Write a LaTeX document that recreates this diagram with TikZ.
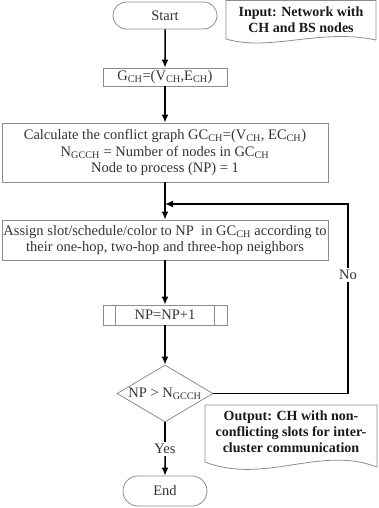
\documentclass[tikz,border=0pt]{standalone}
\usepackage{fontspec}
\setmainfont{Liberation Serif}
\usetikzlibrary{shapes.misc,shapes.geometric,arrows.meta}

\begin{document}
\begin{tikzpicture}[x=1pt,y=-1pt,
  box/.style={draw=black!45, line width=0.8pt, text=black!80, align=center, inner sep=0pt,
    font=\fontsize{14.5}{16.5}\selectfont},
  term/.style={box, rounded rectangle, minimum width=104pt, minimum height=27pt},
  proc/.style={box, rectangle},
  docline/.style={draw=black!45, line width=0.8pt},
  doctext/.style={align=center, inner sep=0pt, text=black!90, font=\fontsize{14}{16}\selectfont\bfseries},
  lbl/.style={fill=white, inner sep=2pt, text=black!80, font=\fontsize{14.5}{16}\selectfont},
  line/.style={line width=1.5pt, black},
  flow/.style={line, -{Latex[length=8pt,width=7pt]}}]
  \useasboundingbox (0,0) rectangle (378,508);

  % Main column
  \node[term] (start) at (165,15.5) {Start};
  \node[proc, minimum width=124pt, minimum height=18pt] (gch) at (165,77)
    {G\textsubscript{CH}=(V\textsubscript{CH},E\textsubscript{CH})};
  \node[proc, minimum width=326pt, minimum height=59pt] (calc) at (165,152.5)
    {Calculate the conflict graph GC\textsubscript{CH}=(V\textsubscript{CH}, EC\textsubscript{CH})\\
     N\textsubscript{GCCH} = Number of nodes in GC\textsubscript{CH}\\
     Node to process (NP) = 1};
  \node[proc, minimum width=326pt, minimum height=40pt] (assign) at (165,240)
    {Assign slot/schedule/color to NP~ in GC\textsubscript{CH} according to\\
     their one-hop, two-hop and three-hop neighbors};
  \node[proc, minimum width=124pt, minimum height=20pt] (incr) at (165,315) {NP=NP+1};
  \draw[docline] ([xshift=13pt]incr.north west) -- ([xshift=13pt]incr.south west);
  \draw[docline] ([xshift=-13pt]incr.north east) -- ([xshift=-13pt]incr.south east);
  \node[box, diamond, aspect=1.7, minimum width=96pt, minimum height=57pt] (test) at (165,393.5)
    {NP > N\textsubscript{GCCH}};
  \node[term, minimum width=84pt, minimum height=30pt] (end) at (165,491) {End};

  % Input and output documents
  \draw[docline] (226,0.5) -- (376,0.5) -- (376,40) .. controls (320,28) and (270,52) .. (226,39) -- cycle;
  \node[doctext] (input) at (301,20) {Input: Network with\\CH and BS nodes};
  \draw[docline] (205,405) -- (377,405) -- (377,467) .. controls (320,445) and (265,485) .. (205,462) -- cycle;
  \node[doctext] (output) at (291,432) {Output: CH with non-\\conflicting slots for inter-\\cluster communication};

  % Connectors
  \draw[flow] (start) -- (gch);
  \draw[flow] (gch) -- (calc);
  \draw[flow] (calc) -- (assign);
  \draw[flow] (assign) -- (incr);
  \draw[flow] (incr) -- (test);

  \node[lbl] (yes) at (165,449) {Yes};
  \draw[line] (test.south) -- (yes.north);
  \draw[flow] (yes.south) -- (end);

  % Loop back
  \coordinate (loopbr) at (348,393.5);
  \coordinate (looptr) at (348,204);
  \coordinate (join) at (165,204);
  \node[lbl] (no) at (348,275) {No};
  \draw[line] (test.east) -- (loopbr) -- (no.south);
  \draw[flow] (no.north) -- (looptr) -- (join);
\end{tikzpicture}
\end{document}
